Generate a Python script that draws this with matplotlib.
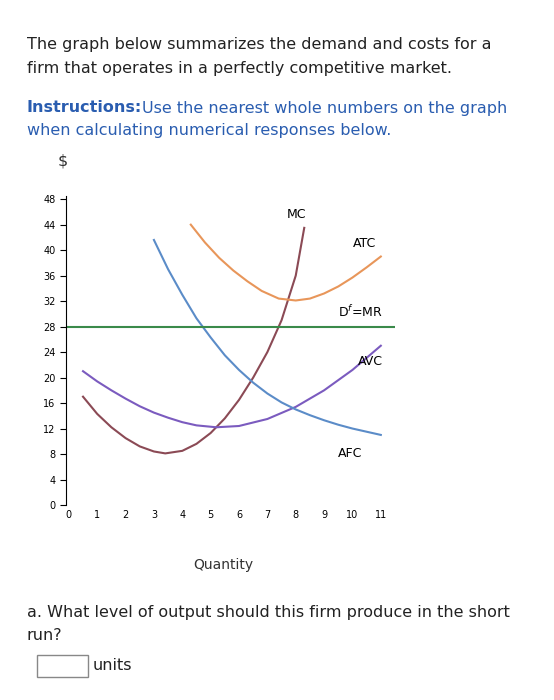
import matplotlib.pyplot as plt
from matplotlib.patches import Rectangle

# curve data (quantity, $)
mc_q = [0.5, 1, 1.5, 2, 2.5, 3, 3.4, 4, 4.5, 5, 5.5, 6, 6.5, 7, 7.5, 8, 8.3]
mc_y = [17, 14.3, 12.2, 10.5, 9.2, 8.4, 8.1, 8.5, 9.6, 11.3, 13.6, 16.5, 20, 24, 29, 36, 43.5]
avc_q = [0.5, 1, 1.5, 2, 2.5, 3, 3.5, 4, 4.5, 5.2, 6, 7, 8, 9, 10, 11]
avc_y = [21, 19.4, 18, 16.7, 15.5, 14.5, 13.7, 13, 12.5, 12.2, 12.4, 13.5, 15.4, 18, 21.2, 25]
atc_q = [4.3, 4.8, 5.3, 5.8, 6.3, 6.8, 7.4, 8, 8.5, 9, 9.5, 10, 10.5, 11]
atc_y = [44, 41.2, 38.8, 36.8, 35.1, 33.6, 32.4, 32.1, 32.4, 33.2, 34.3, 35.7, 37.3, 39]
afc_q = [3, 3.5, 4, 4.5, 5, 5.5, 6, 6.5, 7, 7.5, 8, 8.5, 9, 9.5, 10, 10.5, 11]
afc_y = [41.6, 37, 33, 29.3, 26.3, 23.5, 21.2, 19.2, 17.5, 16.1, 15, 14.1, 13.3, 12.6, 12, 11.5, 11]
mr_price = 28
x_ticks = list(range(12))
y_ticks = list(range(0, 49, 4))

fig = plt.figure(figsize=(5.54, 7), dpi=100)
fig.patch.set_facecolor('white')

fs = 11.5
fig.text(27/554, 1-45/700, "The graph below summarizes the demand and costs for a", fontsize=fs, va='center', color='#222')
fig.text(27/554, 1-68/700, "firm that operates in a perfectly competitive market.", fontsize=fs, va='center', color='#222')
fig.text(27/554, 1-108/700, "Instructions:", fontsize=fs, va='center', color='#2a5db0', weight='bold')
fig.text(142/554, 1-108/700, "Use the nearest whole numbers on the graph", fontsize=fs, va='center', color='#2a5db0')
fig.text(27/554, 1-131/700, "when calculating numerical responses below.", fontsize=fs, va='center', color='#2a5db0')
fig.text(58/554, 1-161/700, "$", fontsize=fs, va='center', color='#333')

ax = fig.add_axes([66/554, 1-505/700, (395-66)/554, 309/700])
ax.plot(mc_q, mc_y, color='#8b4a55', lw=1.5)
ax.plot(atc_q, atc_y, color='#e8965a', lw=1.5)
ax.plot(avc_q, avc_y, color='#7b5bbf', lw=1.5)
ax.plot(afc_q, afc_y, color='#5b8cc8', lw=1.5)
ax.axhline(mr_price, color='#3a8a4a', lw=1.5)
ax.set_xlim(-0.1, 11.5)
ax.set_ylim(0, 48.5)
ax.set_xticks(x_ticks)
ax.set_yticks(y_ticks)
ax.tick_params(labelsize=7, length=4)
ax.tick_params(axis='x', length=0)
for s in ['top', 'right', 'bottom']:
    ax.spines[s].set_visible(False)

ax.text(7.7, 45, "MC", fontsize=9)
ax.text(10, 40.5, "ATC", fontsize=9)
ax.text(9.5, 29.5, "D$^f$=MR", fontsize=9)
ax.text(10.2, 22, "AVC", fontsize=9)
ax.text(9.5, 7.5, "AFC", fontsize=9)

fig.text(223/554, 1-565/700, "Quantity", fontsize=10, ha='center', va='center', color='#333')
fig.text(27/554, 1-612/700, "a. What level of output should this firm produce in the short", fontsize=fs, va='center', color='#222')
fig.text(27/554, 1-635/700, "run?", fontsize=fs, va='center', color='#222')
fig.patches.append(Rectangle((37/554, 1-677/700), 51/554, 22/700, transform=fig.transFigure,
                             fill=False, edgecolor='#888', lw=1))
fig.text(93/554, 1-666/700, "units", fontsize=fs, va='center', color='#222')

fig.savefig("out.png", dpi=100)
